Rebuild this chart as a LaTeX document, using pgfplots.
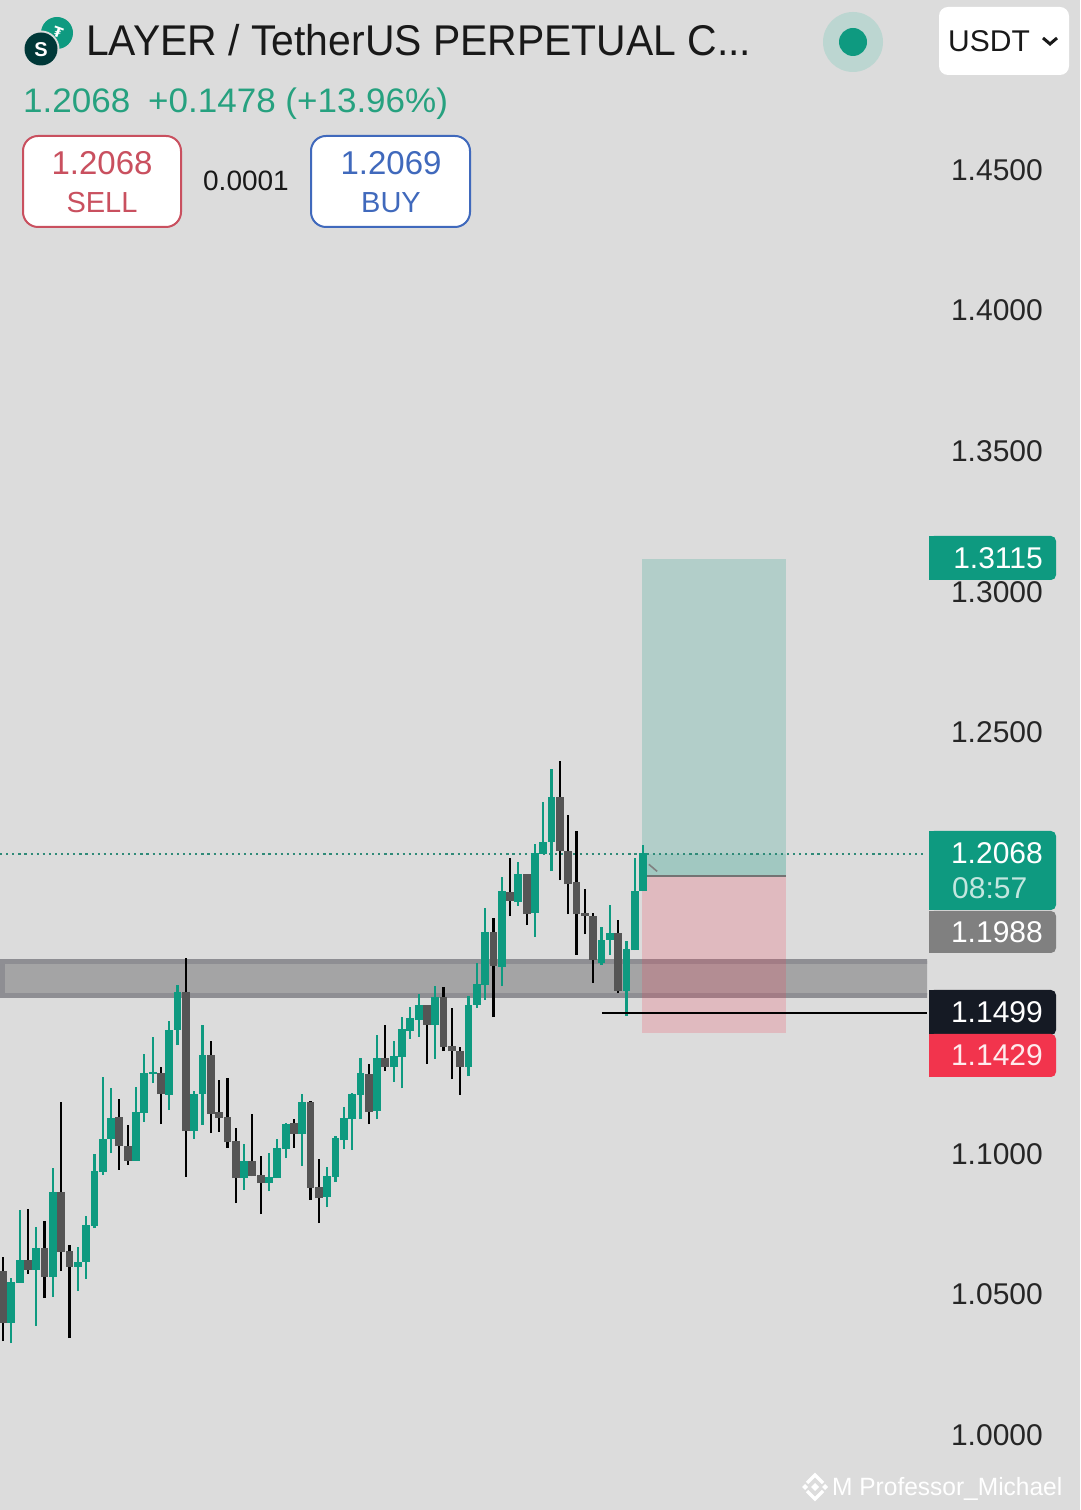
\documentclass[border=0pt]{standalone}
\usepackage{graphicx}
\usepackage{pgfplots}
\usepackage{pgfplotstable}
\usepackage{fontspec}
\pgfplotsset{compat=1.18}
\setmainfont{Liberation Sans}
\newfontfamily\dejavu{DejaVu Sans}
\definecolor{bg}{HTML}{DCDCDC}
\definecolor{up}{HTML}{0E9A80}
\definecolor{upt}{HTML}{26A17F}
\definecolor{dn}{HTML}{555555}
\definecolor{zonef}{HTML}{A4A4A5}
\definecolor{zonee}{HTML}{8E8E93}
\definecolor{red1}{HTML}{F2344D}
\definecolor{sell}{HTML}{C9505F}
\definecolor{buy}{HTML}{4069BC}
\definecolor{ink}{HTML}{151A24}
\definecolor{tag}{HTML}{808080}
\definecolor{dotc}{HTML}{2F8A78}
\definecolor{ring}{HTML}{BCD6D1}
\pgfplotstableread{
i h t b l
1 1.0559 1.0544 1.0398 1.0327
2 1.0800 1.0623 1.0541 1.0541
4 1.0740 1.0665 1.0587 1.0388
6 1.0950 1.0864 1.0562 1.0491
9 1.0669 1.0615 1.0598 1.0512
10 1.0779 1.0747 1.0615 1.0555
11 1.1000 1.0939 1.0744 1.0736
12 1.1274 1.1053 1.0936 1.0925
13 1.1234 1.1128 1.1053 1.1003
16 1.1238 1.1149 1.0975 1.0975
17 1.1355 1.1288 1.1146 1.1114
18 1.1416 1.1291 1.1284 1.1252
20 1.1473 1.1441 1.1210 1.1156
21 1.1601 1.1576 1.1441 1.1387
23 1.1224 1.1213 1.1081 1.1053
24 1.1459 1.1352 1.1213 1.1103
29 1.1035 1.0975 1.0914 1.0872
32 1.1003 1.0918 1.0896 1.0868
33 1.1053 1.1021 1.0914 1.0914
34 1.1110 1.1106 1.1017 1.0985
36 1.1213 1.1185 1.1071 1.0957
39 1.0953 1.0921 1.0847 1.0811
40 1.1064 1.1057 1.0918 1.0900
41 1.1167 1.1128 1.1049 1.1017
42 1.1217 1.1213 1.1124 1.1014
43 1.1341 1.1288 1.1210 1.1124
45 1.1423 1.1341 1.1153 1.1124
47 1.1402 1.1348 1.1309 1.1256
48 1.1487 1.1444 1.1345 1.1234
49 1.1523 1.1483 1.1437 1.1409
50 1.1569 1.1530 1.1476 1.1416
52 1.1597 1.1558 1.1459 1.1338
56 1.1562 1.1530 1.1309 1.1277
57 1.1679 1.1604 1.1530 1.1519
58 1.1875 1.1789 1.1601 1.1548
60 1.1985 1.1935 1.1665 1.1597
62 1.2038 1.1996 1.1896 1.1882
64 1.2102 1.2070 1.1857 1.1772
65 1.2252 1.2110 1.2067 1.2067
66 1.2369 1.2270 1.2110 1.2006
72 1.1807 1.1761 1.1679 1.1672
73 1.1885 1.1786 1.1761 1.1708
75 1.1757 1.1729 1.1580 1.1491
76 1.2053 1.1935 1.1725 1.1725
77 1.2099 1.2070 1.1935 1.1935
}\upcandles
\pgfplotstableread{
i h t b l
0 1.0633 1.0583 1.0398 1.0334
3 1.0804 1.0623 1.0587 1.0573
5 1.0761 1.0665 1.0562 1.0487
7 1.1185 1.0864 1.0651 1.0583
8 1.0676 1.0655 1.0598 1.0345
14 1.1195 1.1131 1.1028 1.0943
15 1.1103 1.1028 1.0975 1.0961
19 1.1309 1.1288 1.1213 1.1106
22 1.1697 1.1576 1.1081 1.0918
25 1.1402 1.1352 1.1142 1.1074
26 1.1263 1.1149 1.1128 1.1078
27 1.1270 1.1131 1.1042 1.1021
28 1.1092 1.1046 1.0914 1.0825
30 1.1142 1.0975 1.0921 1.0921
31 1.0993 1.0925 1.0896 1.0786
35 1.1124 1.1110 1.1071 1.1021
37 1.1188 1.1185 1.0879 1.0836
38 1.0982 1.0882 1.0843 1.0754
44 1.1320 1.1284 1.1149 1.1106
46 1.1459 1.1341 1.1309 1.1295
51 1.1530 1.1530 1.1459 1.1320
53 1.1594 1.1558 1.1380 1.1366
54 1.1519 1.1384 1.1366 1.1266
55 1.1380 1.1366 1.1309 1.1210
59 1.1839 1.1789 1.1668 1.1487
61 1.2053 1.1932 1.1900 1.1846
63 1.1996 1.1996 1.1853 1.1814
67 1.2398 1.2270 1.2078 1.1974
68 1.2206 1.2078 1.1960 1.1853
69 1.2149 1.1967 1.1853 1.1708
70 1.1942 1.1857 1.1846 1.1782
71 1.1857 1.1846 1.1690 1.1608
74 1.1832 1.1786 1.1580 1.1572
}\dncandles
\newcommand\wicks[2]{%
  \addplot[draw=none,mark=none,forget plot,
    error bars/.cd,y dir=plus,y explicit,error mark=none,
    error bar style={line width=2.2pt,color=#2,line cap=butt}]
    table[x=i,y=l,y error plus expr=\thisrow{h}-\thisrow{l},y error minus expr=0]{#1};}
\newcommand\bodies[2]{%
  \addplot[draw=none,mark=none,forget plot,
    error bars/.cd,y dir=plus,y explicit,error mark=none,
    error bar style={line width=7.8pt,color=#2,line cap=butt}]
    table[x=i,y=b,y error plus expr=\thisrow{t}-\thisrow{b},y error minus expr=0]{#1};}
\newcommand\F[1]{\fontsize{#1}{#1}\selectfont}
\newcommand\Tag[3]{% colour, top, bottom
  \fill[#1,rounded corners=5pt] (929,#2) rectangle (1056,#3);
  \fill[#1] (929,#2) rectangle (945,#3);}
\begin{document}
\begin{tikzpicture}[x=1pt,y=1pt]
\useasboundingbox (0,0) rectangle (1080,1510);
\fill[bg] (0,0) rectangle (1080,1510);
\begin{axis}[
  at={(0,0)},anchor=south west,
  width=927pt,height=1510pt,scale only axis,
  xmin=-0.361,xmax=111.165,ymin=0.97332,ymax=1.5105,
  axis line style={draw=none},
  tick style={draw=none},
  xtick=\empty,
  ytick={1,1.05,1.1,1.25,1.3,1.35,1.4,1.45},
  yticklabel pos=right,
  scaled y ticks=false,
  y tick label style={
    /pgf/number format/fixed,/pgf/number format/fixed zerofill,
    /pgf/number format/precision=4,/pgf/number format/assume math mode=true,
    anchor=east,inner sep=0pt,xshift=116pt,text=black!85,font=\F{30}},
  clip=true,
]
% support/resistance zone
\addplot[draw=zonee,line width=5pt,fill=zonef] coordinates {(-0.05,1.16845) (112,1.16845) (112,1.15635) (-0.05,1.15635)} --cycle;
% long position tool
\addplot[draw=none,fill=up,fill opacity=0.2] coordinates {(76.88,1.3115) (94.2,1.3115) (94.2,1.1988) (76.88,1.1988)} --cycle;
\addplot[draw=none,fill=up,fill opacity=0.1] coordinates {(76.88,1.2068) (94.2,1.2068) (94.2,1.1988) (76.88,1.1988)} --cycle;
\addplot[draw=none,fill=red1,fill opacity=0.2] coordinates {(76.88,1.1988) (94.2,1.1988) (94.2,1.1429) (76.88,1.1429)} --cycle;
\addplot[draw=black!55,line width=1.5pt] coordinates {(76.88,1.1988) (94.2,1.1988)};
% last price line
\addplot[draw=dotc,line width=2.2pt,dash pattern=on 2.2pt off 3.9pt] coordinates {(-0.361,1.2068) (111.165,1.2068)};
% candles
\wicks{\upcandles}{up}
\wicks{\dncandles}{black}
\bodies{\upcandles}{up}
\bodies{\dncandles}{dn}
% horizontal level and small pointer
\addplot[draw=black,line width=1.6pt] coordinates {(72.06,1.1502) (111.165,1.1502)};
\addplot[draw=black!50,line width=1.6pt] coordinates {(77.7,1.2030) (78.7,1.2005)};
\end{axis}
\begin{scope}[shift={(0,1510)},y=-1pt,x=1pt]
% price tags
\Tag{up}{536}{580}
\node[anchor=east,inner sep=0,text=white,font=\F{30}] at (1043,558) {1.3115};
\Tag{up}{831}{910}
\node[anchor=east,inner sep=0,text=white,font=\F{30}] at (1043,853) {1.2068};
\node[anchor=west,inner sep=0,text=white!75!up,font=\F{30}] at (952,888) {08:57};
\Tag{tag}{911}{953}
\node[anchor=east,inner sep=0,text=white,font=\F{30}] at (1043,932) {1.1988};
\Tag{ink}{990}{1035}
\node[anchor=east,inner sep=0,text=white,font=\F{30}] at (1043,1012) {1.1499};
\Tag{red1}{1034}{1077}
\node[anchor=east,inner sep=0,text=white!90!red1,font=\F{30}] at (1043,1055) {1.1429};
% header icons
\fill[up] (57,33) circle (16pt);
\node[text=white,font=\dejavu\bfseries\F{14},rotate=-20,inner sep=0] at (58,32) {₮};
\fill[bg] (41,49) circle (18.5pt);
\fill[black!20!teal!55!black] (41,49) circle (16.5pt);
\node[text=white,font=\bfseries\F{20},inner sep=0] at (41,50) {S};
% header text
\node[anchor=base west,inner sep=0,text=black!90,font=\F{43}] at (86,56) {\scalebox{0.951}[1]{LAYER / TetherUS PERPETUAL C...}};
\node[anchor=base west,inner sep=0,text=upt,font=\F{34}] at (23,113) {\scalebox{1.03}[1]{1.2068}};
\node[anchor=base west,inner sep=0,text=upt,font=\F{34}] at (148,113) {\scalebox{1.03}[1]{+0.1478 (+13.96\%)}};
% status dot
\fill[ring] (853,42) circle (30pt);
\fill[up] (853,42) circle (14pt);
% USDT button
\fill[white,rounded corners=9pt] (939,7) rectangle (1069,75);
\node[anchor=west,inner sep=0,text=black!90,font=\F{30}] at (948,41) {USDT};
\draw[black!90,line width=3pt] (1043,38) -- (1050,44) -- (1057,38);
% sell / buy
\draw[sell,fill=white,line width=2pt,rounded corners=15pt] (23,136) rectangle (181,227);
\node[inner sep=0,text=sell,font=\F{33}] at (102,163) {1.2068};
\node[inner sep=0,text=sell,font=\F{29}] at (102,203) {SELL};
\node[inner sep=0,text=black!90,font=\F{28}] at (246,181) {0.0001};
\draw[buy,fill=white,line width=2pt,rounded corners=15pt] (311,136) rectangle (470,227);
\node[inner sep=0,text=buy,font=\F{33}] at (391,163) {1.2069};
\node[inner sep=0,text=buy,font=\F{29}] at (391,203) {BUY};
% watermark
\begin{scope}[shift={(815,1487)}]
\draw[white,line width=3.5pt,line join=miter] (-8,-4) -- (0,-12) -- (8,-4);
\draw[white,line width=3.5pt,line join=miter] (-8,4) -- (0,12) -- (8,4);
\fill[white] (-13,0) -- (-10,-3) -- (-7,0) -- (-10,3) -- cycle;
\fill[white] (13,0) -- (10,-3) -- (7,0) -- (10,3) -- cycle;
\fill[white] (0,-4) -- (4,0) -- (0,4) -- (-4,0) -- cycle;
\end{scope}
\node[anchor=base west,inner sep=0,text=white,font=\F{25}] at (832,1496) {\scalebox{0.98}[1]{M Professor\_Michael}};
\end{scope}
\end{tikzpicture}
\end{document}
